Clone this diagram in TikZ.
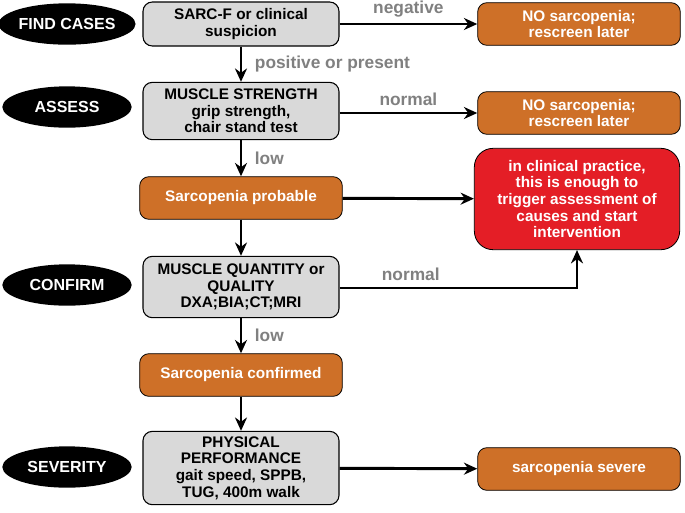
\documentclass[tikz,border=0pt]{standalone}
\usepackage{fontspec}
\setmainfont{Liberation Sans}
\usetikzlibrary{shapes.geometric,arrows.meta}
\definecolor{org}{RGB}{206,112,40}
\definecolor{rd}{RGB}{228,30,38}
\definecolor{gr}{RGB}{217,217,217}
\definecolor{lab}{RGB}{128,128,128}
\begin{document}
\begin{tikzpicture}[x=0.75pt,y=-0.75pt,
  every node/.style={font=\bfseries\fontsize{11.5}{12.5}\selectfont, align=center},
  stage/.style={ellipse, fill=black, text=white, minimum width=97pt, minimum height=31pt, inner sep=0pt, font=\bfseries\fontsize{12}{13}\selectfont},
  gbox/.style={rounded corners=7pt, draw=black, line width=0.8pt, fill=gr, minimum width=147pt, inner sep=1pt},
  obox/.style={rounded corners=7pt, draw=black, line width=0.6pt, fill=org, text=white, minimum width=152pt, minimum height=32pt},
  arr/.style={-{Stealth[length=10pt,width=9pt]}, line width=2.2pt},
  lbl/.style={text=lab, font=\bfseries\fontsize{13}{14}\selectfont}]
\useasboundingbox (0,0) rectangle (685,512);
\node[stage] (s1) at (67,24) {FIND CASES};
\node[stage] (s2) at (67,107) {ASSESS};
\node[stage] (s3) at (67,285) {CONFIRM};
\node[stage] (s4) at (67,467) {SEVERITY};
\node[gbox, minimum height=33pt] (b1) at (241,24) {SARC-F or clinical\\suspicion};
\node[gbox, minimum height=43pt] (b2) at (241,111) {MUSCLE STRENGTH\\grip strength,\\chair stand test};
\node[obox] (p) at (241,198) {Sarcopenia probable};
\node[gbox, minimum height=46pt] (b3) at (241,287) {MUSCLE QUANTITY or\\QUALITY\\DXA;BIA;CT;MRI};
\node[obox] (c) at (241,375) {Sarcopenia confirmed};
\node[gbox, minimum height=55pt] (b4) at (241,468) {PHYSICAL\\PERFORMANCE\\gait speed, SPPB,\\TUG, 400m walk};
\node[obox] (r1) at (579,24) {NO sarcopenia;\\rescreen later};
\node[obox] (r2) at (579,113) {NO sarcopenia;\\rescreen later};
\node[obox] (r4) at (579,469) {sarcopenia severe};
\node[draw=black, line width=0.6pt, fill=rd, text=white, rounded corners=14pt, minimum width=154pt, minimum height=76pt] (red) at (577,199) {in clinical practice,\\this is enough to\\trigger assessment of\\causes and start\\intervention};
\draw[arr] (b1) -- (b2) node[midway, right=6pt, lbl] {positive or present};
\draw[arr] (b2) -- (p) node[midway, right=6pt, lbl] {low};
\draw[arr] (p) -- (b3);
\draw[arr] (b3) -- (c) node[midway, right=6pt, lbl] {low};
\draw[arr] (c) -- (b4);
\draw[arr] (b1) -- (r1) node[midway, above=1pt, lbl] {negative};
\draw[arr] (b2.east |- r2) -- (r2) node[midway, above=1pt, lbl] {normal};
\draw[arr] (p) -- (red);
\coordinate (k) at (577,288);
\draw[arr] (b3.east |- k) -- (k) node[pos=0.3, above=1pt, lbl] {normal} -- (red.south);
\draw[arr] (b4) -- (r4);
\end{tikzpicture}
\end{document}
